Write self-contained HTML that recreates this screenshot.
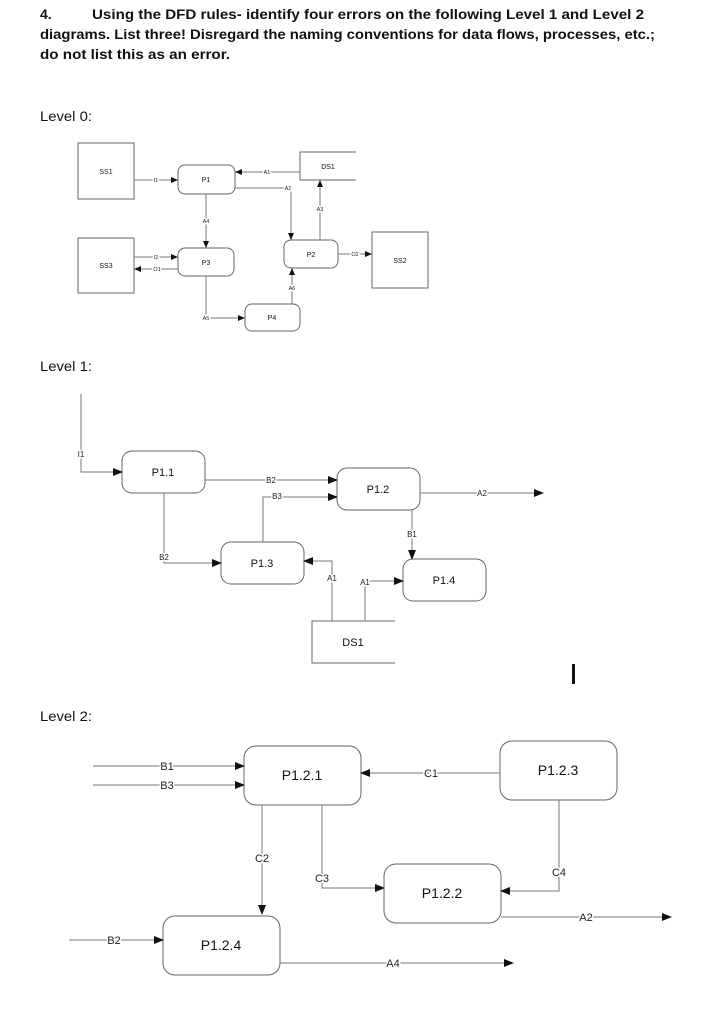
<!DOCTYPE html>
<html><head><meta charset="utf-8"><style>
html,body{margin:0;padding:0;background:#fff;}
svg{display:block;}
.t{font-family:"Liberation Sans",Arial,sans-serif;fill:#111;}
.l{stroke:#777;stroke-width:1;fill:none;}
.b{stroke:#666;stroke-width:1;fill:#fff;}
.lb{font-family:"Liberation Sans",Arial,sans-serif;fill:#222;stroke:#fff;stroke-width:3px;paint-order:stroke;}
</style></head><body>
<svg width="717" height="1024" viewBox="0 0 717 1024" xmlns="http://www.w3.org/2000/svg">
<defs>
<marker id="a" markerWidth="10" markerHeight="8" refX="9" refY="4" orient="auto" markerUnits="userSpaceOnUse"><path d="M0,0 L10,4 L0,8 z" fill="#111"/></marker>
<marker id="s" markerWidth="7" markerHeight="6" refX="7" refY="3" orient="auto" markerUnits="userSpaceOnUse"><path d="M0,0 L7,3 L0,6 z" fill="#111"/></marker>
</defs>
<!-- title -->
<g class="t" font-weight="bold" font-size="14">
<text x="40" y="19">4.</text>
<text x="92" y="19" textLength="552" lengthAdjust="spacingAndGlyphs">Using the DFD rules- identify four errors on the following Level 1 and Level 2</text>
<text x="40" y="39" textLength="615" lengthAdjust="spacingAndGlyphs">diagrams.  List three! Disregard the naming conventions for data flows, processes, etc.;</text>
<text x="40" y="59" textLength="190" lengthAdjust="spacingAndGlyphs">do not list this as an error.</text>
</g>
<g class="t" font-size="14">
<text x="40" y="121" textLength="52" lengthAdjust="spacingAndGlyphs">Level 0:</text>
<text x="40" y="371" textLength="52" lengthAdjust="spacingAndGlyphs">Level 1:</text>
<text x="40" y="721" textLength="52" lengthAdjust="spacingAndGlyphs">Level 2:</text>
</g>

<!-- LEVEL 0 -->
<g>
<rect class="b" x="78" y="143" width="56" height="56"/>
<rect class="b" x="78" y="238" width="56" height="55"/>
<rect class="b" x="372" y="232" width="56" height="56"/>
<rect class="b" x="178" y="165" width="57" height="29" rx="7"/>
<rect class="b" x="178" y="248" width="56" height="28" rx="7"/>
<rect class="b" x="284" y="240" width="54" height="28" rx="7"/>
<rect class="b" x="245" y="304" width="55" height="27" rx="7"/>
<path class="l" d="M356,152 H300 V180 H356" style="stroke:#666"/>
<path class="l" d="M134,180 H178" marker-end="url(#s)"/>
<path class="l" d="M300,172 H235" marker-end="url(#s)"/>
<path class="l" d="M235,188 H291 V240" marker-end="url(#s)"/>
<path class="l" d="M320,240 V180" marker-end="url(#s)"/>
<path class="l" d="M206,194 V248" marker-end="url(#s)"/>
<path class="l" d="M134,257 H178" marker-end="url(#s)"/>
<path class="l" d="M178,269 H134" marker-end="url(#s)"/>
<path class="l" d="M206,276 V318 H245" marker-end="url(#s)"/>
<path class="l" d="M292,304 V268" marker-end="url(#s)"/>
<path class="l" d="M338,254 H372" marker-end="url(#s)"/>
<g class="t" font-size="7" text-anchor="middle">
<text x="106" y="174">SS1</text><text x="106" y="268">SS3</text><text x="400" y="263">SS2</text>
<text x="206" y="182">P1</text><text x="206" y="265">P3</text><text x="311" y="257">P2</text><text x="272" y="320">P4</text>
<text x="328" y="169">DS1</text>
</g>
<g class="lb" font-size="5.5" text-anchor="middle">
<text x="156" y="182">I1</text><text x="267" y="174">A1</text><text x="288" y="190">A2</text>
<text x="320" y="211">A3</text><text x="206" y="223">A4</text><text x="156" y="259">I2</text>
<text x="157" y="271">O1</text><text x="206" y="320">A5</text><text x="292" y="290">A6</text>
<text x="355" y="256">O2</text>
</g>
</g>

<!-- LEVEL 1 -->
<g>
<rect class="b" x="122" y="451" width="83" height="42" rx="10"/>
<rect class="b" x="337" y="468" width="83" height="42" rx="10"/>
<rect class="b" x="221" y="542" width="83" height="42" rx="10"/>
<rect class="b" x="403" y="559" width="83" height="42" rx="10"/>
<path class="l" d="M395,621 H312 V663 H395" style="stroke:#666"/>
<path class="l" d="M81,394 V472 H122" marker-end="url(#a)"/>
<path class="l" d="M205,480 H337" marker-end="url(#a)"/>
<path class="l" d="M263,542 V497 H337" marker-end="url(#a)"/>
<path class="l" d="M420,493 H543" marker-end="url(#a)"/>
<path class="l" d="M412,510 V559" marker-end="url(#a)"/>
<path class="l" d="M164,493 V563 H221" marker-end="url(#a)"/>
<path class="l" d="M332,621 V561 H304" marker-end="url(#a)"/>
<path class="l" d="M365,621 V581 H403" marker-end="url(#a)"/>
<g class="t" font-size="11" text-anchor="middle">
<text x="163" y="476">P1.1</text><text x="378" y="493">P1.2</text><text x="262" y="567">P1.3</text>
<text x="444" y="584">P1.4</text><text x="353" y="646">DS1</text>
</g>
<g class="lb" font-size="8" text-anchor="middle">
<text x="81" y="457">I1</text><text x="271" y="483">B2</text><text x="277" y="499">B3</text>
<text x="482" y="496">A2</text><text x="412" y="537">B1</text><text x="164" y="560">B2</text>
<text x="332" y="581">A1</text><text x="365" y="585">A1</text>
</g>
<rect x="572" y="664" width="3" height="20" fill="#111"/>
</g>

<!-- LEVEL 2 -->
<g>
<rect class="b" x="244" y="746" width="117" height="59" rx="12"/>
<rect class="b" x="500" y="741" width="117" height="59" rx="12"/>
<rect class="b" x="384" y="864" width="117" height="59" rx="12"/>
<rect class="b" x="163" y="916" width="117" height="59" rx="12"/>
<path class="l" d="M93,766 H244" marker-end="url(#a)"/>
<path class="l" d="M93,785 H244" marker-end="url(#a)"/>
<path class="l" d="M500,773 H361" marker-end="url(#a)"/>
<path class="l" d="M262,805 V914" marker-end="url(#a)"/>
<path class="l" d="M322,805 V888 H384" marker-end="url(#a)"/>
<path class="l" d="M559,800 V891 H501" marker-end="url(#a)"/>
<path class="l" d="M501,917 H671" marker-end="url(#a)"/>
<path class="l" d="M69,940 H163" marker-end="url(#a)"/>
<path class="l" d="M280,963 H513" marker-end="url(#a)"/>
<g class="t" font-size="14" text-anchor="middle">
<text x="302" y="780">P1.2.1</text><text x="558" y="775">P1.2.3</text>
<text x="442" y="898">P1.2.2</text><text x="221" y="950">P1.2.4</text>
</g>
<g class="lb" font-size="11" text-anchor="middle">
<text x="167" y="770">B1</text><text x="167" y="789">B3</text><text x="431" y="777">C1</text>
<text x="262" y="862">C2</text><text x="322" y="882">C3</text><text x="559" y="876">C4</text>
<text x="586" y="921">A2</text><text x="114" y="944">B2</text><text x="393" y="967">A4</text>
</g>
</g>
</svg>
</body></html>
